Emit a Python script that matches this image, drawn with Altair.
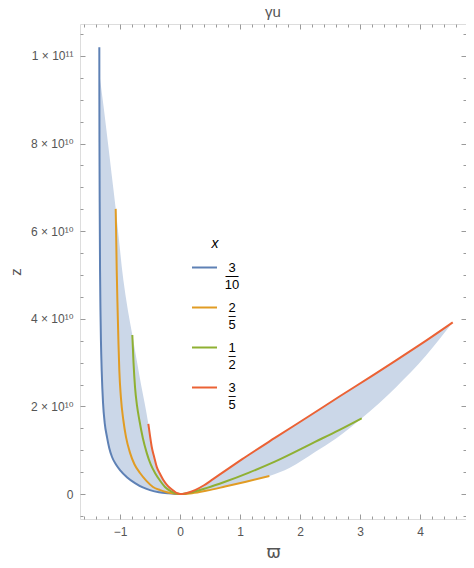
import altair as alt
import pandas as pd

FONT = "Liberation Sans, Arial, DejaVu Sans"

# ---------------- data (z in units of 1e10) ----------------
series_names = ["3/10", "2/5", "1/2", "3/5"]
series_colors = ["#5e81b5", "#e19c24", "#8fb032", "#eb6235"]

blue_w = [-1.345, -1.344, -1.342, -1.338, -1.333, -1.326, -1.318, -1.305, -1.283, -1.255,
          -1.217, -1.18, -1.133, -1.07, -1.0, -0.88, -0.75, -0.62, -0.5, -0.35, -0.2, -0.08, 0.0]
blue_z = [10.2, 9.0, 7.8, 6.4, 5.11, 4.2, 3.5, 2.8, 2.08, 1.62,
          1.30, 1.05, 0.845, 0.68, 0.548, 0.38, 0.25, 0.15, 0.09, 0.04, 0.015, 0.003, 0.0]

orange_w = [-1.072, -1.063, -1.055, -1.04, -1.025, -1.012, -0.985, -0.945, -0.9, -0.833, -0.76,
            -0.667, -0.56, -0.45, -0.33, -0.217, -0.1, 0.0,
            0.2, 0.45, 0.75, 1.1, 1.489]
orange_z = [6.51, 5.8, 5.11, 4.2, 3.4, 2.83, 2.2, 1.69, 1.3, 0.94, 0.68,
            0.48, 0.3, 0.16, 0.09, 0.04, 0.01, 0.0,
            0.02, 0.08, 0.17, 0.28, 0.41]

green_w = [-0.795, -0.775, -0.75, -0.715, -0.678, -0.62, -0.555, -0.49, -0.417, -0.33, -0.25,
           -0.15, -0.06, 0.0,
           0.19, 0.45, 0.75, 1.15, 1.58, 2.25, 2.65, 3.028]
green_z = [3.63, 3.0, 2.44, 2.0, 1.69, 1.28, 0.94, 0.68, 0.48, 0.3, 0.16,
           0.06, 0.01, 0.0,
           0.04, 0.14, 0.28, 0.49, 0.74, 1.19, 1.46, 1.73]

red_w = [-0.528, -0.5, -0.472, -0.43, -0.388, -0.33, -0.278, -0.2, -0.112, -0.05, 0.0,
         0.1, 0.25, 0.4, 0.55, 0.75, 1.03, 1.58, 2.14, 2.65, 3.167, 3.6, 4.0, 4.545]
red_z = [1.60, 1.33, 1.08, 0.84, 0.62, 0.45, 0.32, 0.18, 0.08, 0.02, 0.0,
         0.02, 0.09, 0.2, 0.34, 0.53, 0.79, 1.28, 1.77, 2.22, 2.67, 3.05, 3.41, 3.92]

# shaded region, left part (as function of z)
bandL_z = [0, 0.02, 0.09, 0.25, 0.55, 0.85, 1.08, 1.3, 1.6, 2.08, 2.5, 3.0, 3.63,
           4.2, 4.89, 5.7, 6.51, 7.3, 8.0, 8.8, 9.6]
bandL_lo = [-0.02, -0.19, -0.5, -0.75, -1.0, -1.133, -1.185, -1.217, -1.245, -1.283, -1.3,
            -1.312, -1.322, -1.327, -1.333, -1.336, -1.339, -1.341, -1.342, -1.344, -1.345]
bandL_hi = [0.0, -0.05, -0.12, -0.24, -0.37, -0.43, -0.472, -0.497, -0.528, -0.59, -0.65,
            -0.715, -0.795, -0.87, -0.945, -1.01, -1.072, -1.14, -1.2, -1.27, -1.345]

# shaded region, right part (as function of w)
bandR_w = [0, 0.2, 0.45, 0.75, 1.1, 1.489, 1.83, 2.25, 2.6, 3.028, 3.6, 4.1, 4.545]
bandR_lo = [0, 0.02, 0.08, 0.17, 0.28, 0.41, 0.6, 0.96, 1.27, 1.73, 2.44, 3.16, 3.92]
bandR_hi = [0, 0.065, 0.245, 0.53, 0.85, 1.2, 1.5, 1.87, 2.18, 2.55, 3.05, 3.5, 3.92]

x_major = [-1, 0, 1, 2, 3, 4]
x_minor = [-1.6, -1.4, -1.2, -0.8, -0.6, -0.4, -0.2, 0.2, 0.4, 0.6, 0.8, 1.2, 1.4, 1.6, 1.8,
           2.2, 2.4, 2.6, 2.8, 3.2, 3.4, 3.6, 3.8, 4.2, 4.4, 4.6]
y_major = [0, 2, 4, 6, 8, 10]
y_minor = [-0.5, 0.5, 1, 1.5, 2.5, 3, 3.5, 4.5, 5, 5.5, 6.5, 7, 7.5, 8.5, 9, 9.5, 10.5]

x_domain = [-1.667, 4.766]
y_domain = [-0.57, 10.73]

# ---------------- tables ----------------
rows = []
for name, ws, zs in [("3/10", blue_w, blue_z), ("2/5", orange_w, orange_z),
                     ("1/2", green_w, green_z), ("3/5", red_w, red_z)]:
    for i, (a, b) in enumerate(zip(ws, zs)):
        rows.append({"series": name, "w": a, "z": b, "i": i})
lines_df = pd.DataFrame(rows)
bandL_df = pd.DataFrame({"z": bandL_z, "lo": bandL_lo, "hi": bandL_hi})
bandR_df = pd.DataFrame({"w": bandR_w, "lo": bandR_lo, "hi": bandR_hi})

xs = alt.Scale(domain=x_domain, nice=False, zero=False)
ys = alt.Scale(domain=y_domain, nice=False, zero=False)

common = dict(domain=False, grid=False, tickColor="#9a9a9a", tickWidth=1,
              labelColor="#555555", labelFont=FONT, labelFontSize=12)


def tick_axis(orient, values, size, labels=False, **kw):
    return alt.Axis(orient=orient, values=values, tickSize=size, offset=-size,
                    labels=labels, title=None, **{**common, **kw})


ax_bottom = alt.Axis(orient="bottom", values=x_major, tickSize=5, offset=-5, labelPadding=7,
                     title="\u03d6", titleFontSize=17, titleColor="#555555",
                     titleFont="DejaVu Sans", titleFontWeight="normal", titlePadding=7,
                     labelFlush=False, **common)
ax_left = alt.Axis(orient="left", values=y_major, tickSize=5, offset=-5, labelPadding=7,
                   labelExpr="datum.value == 0 ? '0' : (datum.value == 10 ? '1 \u00d7 10\u00b9\u00b9' : datum.value + ' \u00d7 10\u00b9\u2070')",
                   title="z", titleFontSize=15, titleColor="#555555", titleFont=FONT,
                   titleFontWeight="normal", titlePadding=7, labelFlush=False, **common)

bandL = alt.Chart(bandL_df).mark_area(color="#cbd7e8", orient="horizontal",
                                      interpolate="monotone").encode(
    y=alt.Y("z:Q", scale=ys, axis=tick_axis("left", y_minor, 3)),
    x=alt.X("lo:Q", scale=xs, axis=tick_axis("bottom", x_minor, 3)),
    x2="hi:Q",
)

bandR = alt.Chart(bandR_df).mark_area(color="#cbd7e8", interpolate="monotone").encode(
    x=alt.X("w:Q", scale=xs, axis=tick_axis("top", x_major, 5)),
    y=alt.Y("lo:Q", scale=ys, axis=tick_axis("right", y_major, 5)),
    y2="hi:Q",
)

lines = alt.Chart(lines_df).mark_line(strokeWidth=2, interpolate="monotone").encode(
    x=alt.X("w:Q", scale=xs, axis=ax_bottom),
    y=alt.Y("z:Q", scale=ys, axis=ax_left),
    color=alt.Color(
        "series:N",
        sort=series_names,
        scale=alt.Scale(domain=series_names, range=series_colors),
        legend=alt.Legend(
            title="x", orient="none", legendX=111, legendY=213,
            titleFont=FONT, titleFontStyle="italic", titleFontSize=14, titleFontWeight="normal",
            titleColor="#000000", titleAnchor="middle", titlePadding=3,
            labelFont=FONT, labelFontSize=13, labelColor="#000000", labelAlign="center",
            labelOffset=14,
            labelExpr="datum.label == '3/10' ? ['3', '\u2014', '10'] : [split(datum.label, '/')[0], '\u2013', split(datum.label, '/')[1]]",
            symbolType="stroke", symbolSize=625, symbolStrokeWidth=2, rowPadding=2, padding=0,
        ),
    ),
    order="i:Q",
)

ghost = alt.Chart(lines_df).mark_point(opacity=0).encode(
    x=alt.X("w:Q", scale=xs, axis=tick_axis("top", x_minor, 3)),
    y=alt.Y("z:Q", scale=ys, axis=tick_axis("right", y_minor, 3)),
)

chart = alt.layer(bandL, bandR, lines, ghost).resolve_axis(
    x="independent", y="independent"
).properties(
    width=386, height=495,
    title=alt.TitleParams("\u03b3u", fontSize=15, color="#555555", font=FONT,
                          fontWeight="normal", offset=4),
    padding={"left": 72, "top": 16, "right": 0, "bottom": 41},
    autosize=alt.AutoSizeParams(type="none"),
).configure_view(stroke="#a6a6a6", strokeWidth=1).configure(
    style={"guide-label": {"lineHeight": 8.75}}
)

chart.save("out.html", embed_options={"renderer": "svg", "actions": False})
